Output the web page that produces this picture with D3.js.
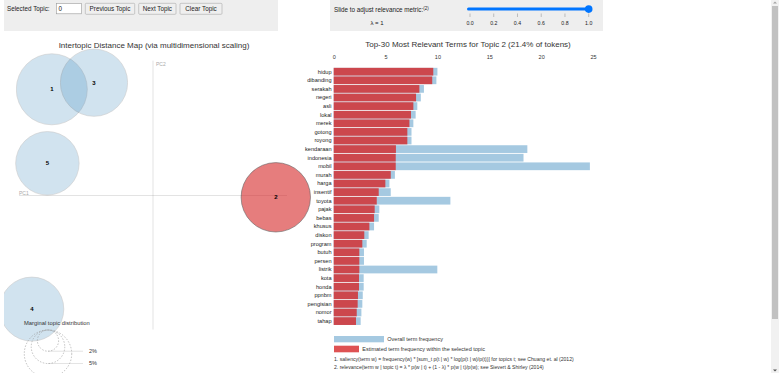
<!DOCTYPE html>
<html><head><meta charset="utf-8">
<script src="https://cdn.jsdelivr.net/npm/d3@7"></script>
<style>
html,body{margin:0;padding:0;background:#fff;overflow:hidden;}
text{font-family:"Liberation Sans",Arial,sans-serif;}
</style></head>
<body>
<svg id="chart" width="779" height="373"></svg>
<script>
// ---------- data ----------
const terms = ["hidup","dibanding","serakah","negeri","asli","lokal","merek","gotong","royong","kendaraan","indonesia","mobil","murah","harga","insentif","toyota","pajak","bebas","khusus","diskon","program","butuh","persen","listrik","kota","honda","ppnbm","pengisian","nomor","tahap"];
const topicFreq = [9.6,9.5,8.26,7.94,7.68,7.45,7.3,7.1,7.1,6.0,5.98,5.98,5.5,4.98,4.34,4.15,3.95,3.89,3.44,2.95,2.76,2.47,2.47,2.47,2.44,2.44,2.34,2.31,2.22,2.15];
const overallFreq = [10.0,9.9,8.7,8.4,8.06,7.9,7.68,7.5,7.5,18.67,18.3,24.7,5.9,5.37,5.5,11.25,4.4,4.34,3.89,3.37,3.18,2.92,2.92,9.99,2.89,2.89,2.8,2.76,2.67,2.6];
const xTicks = [0,5,10,15,20,25];

const topicIds = [1,2,3,4,5];
const topicPC1 = [-0.253,0.307,-0.1475,-0.303,-0.264];
const topicPC2 = [0.2655,-0.0045,0.282,-0.284,0.0805];
const topicPct = [22.4,21.4,20.1,18.2,17.9];
const selectedTopic = 2;

const legendPct = [2,5,10];
const lambdaTicks = [0,0.2,0.4,0.6,0.8,1.0];
const lambdaValue = 1;

// ---------- setup ----------
const svg = d3.select("#chart");
const dark = "#333";

// control panels
svg.append("rect").attr("x",4).attr("y",0).attr("width",274).attr("height",31).attr("fill","#eeeeee");
svg.append("rect").attr("x",330).attr("y",0).attr("width",273).attr("height",31).attr("fill","#eeeeee");

svg.append("text").attr("x",7).attr("y",11).attr("font-size",6.3).attr("fill","#222").text("Selected Topic:");
svg.append("rect").attr("x",56.5).attr("y",3.3).attr("width",25).attr("height",10.5).attr("fill","#fff").attr("stroke","#999").attr("stroke-width",0.6);
svg.append("text").attr("x",58.5).attr("y",11).attr("font-size",6.3).attr("fill","#222").text("0");
const buttons = [["Previous Topic",85.3,49.4],["Next Topic",138.7,37.3],["Clear Topic",180,42]];
buttons.forEach(b=>{
  svg.append("rect").attr("x",b[1]).attr("y",3.3).attr("width",b[2]).attr("height",11).attr("fill","#efefef").attr("stroke","#aaa").attr("stroke-width",0.6).attr("rx",1);
  svg.append("text").attr("x",b[1]+b[2]/2).attr("y",11).attr("text-anchor","middle").attr("font-size",6.3).attr("fill","#222").text(b[0]);
});

svg.append("text").attr("x",334).attr("y",12.3).attr("font-size",6.3).attr("fill","#222")
  .text("Slide to adjust relevance metric:").append("tspan").attr("font-size",4.5).attr("dy",-2).text("(2)");
svg.append("text").attr("x",377).attr("y",25.3).attr("text-anchor","middle").attr("font-size",6).attr("fill","#222").text("λ = " + lambdaValue);

const lam = d3.scaleLinear().domain([0,1]).range([470,588.7]);
svg.append("rect").attr("x",467).attr("y",7.6).attr("width",123).attr("height",3).attr("rx",1.5).attr("fill","#0075ff");
svg.append("circle").attr("cx",lam(lambdaValue)).attr("cy",9.1).attr("r",3.8).attr("fill","#0075ff");
const lg = svg.append("g");
lambdaTicks.forEach(t=>{
  lg.append("line").attr("x1",lam(t)).attr("x2",lam(t)).attr("y1",13.5).attr("y2",17).attr("stroke","#888").attr("stroke-width",0.5);
  lg.append("text").attr("x",lam(t)).attr("y",24.8).attr("text-anchor","middle").attr("font-size",5.2).attr("fill","#222").text(t.toFixed(1));
});

// ---------- left: MDS ----------
svg.append("text").attr("x",154).attr("y",47.5).attr("text-anchor","middle").attr("font-size",8).attr("fill",dark)
  .text("Intertopic Distance Map (via multidimensional scaling)");

const defs = svg.append("defs");
defs.append("clipPath").attr("id","leftclip").append("rect").attr("x",4).attr("y",0).attr("width",320).attr("height",373);
const left = svg.append("g").attr("clip-path","url(#leftclip)");

const xs = d3.scaleLinear().domain([-0.335,0.335]).range([19,287]);
const ys = d3.scaleLinear().domain([-0.335,0.335]).range([329.5,61.5]);
const rs = d3.scaleSqrt().domain([0,100]).range([0,75]);

left.append("line").attr("x1",xs(-0.335)).attr("x2",xs(0.335)).attr("y1",ys(0)).attr("y2",ys(0)).attr("stroke","gray").attr("opacity",0.3).attr("stroke-width",0.7);
left.append("line").attr("x1",xs(0)).attr("x2",xs(0)).attr("y1",ys(0.335)-0.8).attr("y2",ys(-0.335)).attr("stroke","gray").attr("opacity",0.3).attr("stroke-width",0.7);
left.append("text").attr("x",19).attr("y",194.5).attr("font-size",5).attr("fill","#aaa").text("PC1");
left.append("text").attr("x",156).attr("y",66).attr("font-size",5).attr("fill","#aaa").text("PC2");

const topics = topicIds.map((id,i)=>({id, x:topicPC1[i], y:topicPC2[i], p:topicPct[i]}));
left.selectAll("circle.topic").data(topics).enter().append("circle")
  .attr("class","topic")
  .attr("cx",d=>xs(d.x)).attr("cy",d=>ys(d.y)).attr("r",d=>rs(d.p))
  .attr("fill",d=>d.id===selectedTopic?"#d62728":"#1f77b4")
  .attr("opacity",d=>d.id===selectedTopic?0.6:0.2)
  .attr("stroke","black").attr("stroke-width",0.6);
left.selectAll("text.tl").data(topics).enter().append("text")
  .attr("class","tl").attr("x",d=>xs(d.x)).attr("y",d=>ys(d.y)+2)
  .attr("text-anchor","middle").attr("font-size",6).attr("font-weight","bold").attr("fill","#000").text(d=>d.id);

// marginal legend
const lcx = 48, ltop = 330, lcx2 = 83;
left.append("text").attr("x",24).attr("y",325.3).attr("font-size",5.8).attr("fill",dark).text("Marginal topic distribution");
legendPct.forEach(p=>{
  const r = rs(p);
  left.append("circle").attr("cx",lcx).attr("cy",ltop+r).attr("r",r).attr("fill","none")
    .attr("stroke","#999").attr("stroke-dasharray","1.5 1.5").attr("stroke-width",0.6);
  left.append("line").attr("x1",lcx).attr("x2",lcx2).attr("y1",ltop+2*r).attr("y2",ltop+2*r)
    .attr("stroke","gray").attr("opacity",0.3).attr("stroke-width",0.7);
  // label only when it falls inside the visible page (the 10% label is below the fold)
  if (ltop + 2*r + 2 < 373) {
    left.append("text").attr("x",lcx2+6).attr("y",ltop+2*r+1.8).attr("font-size",5.5).attr("fill",dark).text(p+"%");
  }
});

// ---------- right: bars ----------
svg.append("text").attr("x",468).attr("y",46.5).attr("text-anchor","middle").attr("font-size",8).attr("fill",dark)
  .text("Top-30 Most Relevant Terms for Topic " + selectedTopic + " (" + topicPct[selectedTopic-1].toFixed(1) + "% of tokens)");

const bx = d3.scaleLinear().domain([0,25]).range([333.7,593]);
const by = d3.scaleBand().domain(terms).range([67.4,325.4]).paddingInner(0.1).paddingOuter(0.05);

const axis = d3.axisTop(bx).tickValues(xTicks).tickSize(0).tickPadding(0);
const ag = svg.append("g").attr("transform","translate(0,59)").call(axis);
ag.select(".domain").remove();
ag.selectAll("text").attr("font-size",5.5).attr("fill",dark).attr("font-family","Liberation Sans, Arial, sans-serif");

const rows = terms.map((t,i)=>({t, a:overallFreq[i], b:topicFreq[i]}));
svg.selectAll("rect.ov").data(rows).enter().append("rect").attr("class","ov")
  .attr("x",bx(0)).attr("y",d=>by(d.t)).attr("width",d=>bx(d.a)-bx(0)).attr("height",by.bandwidth())
  .attr("fill","#1f77b4").attr("opacity",0.4);
svg.selectAll("rect.tf").data(rows).enter().append("rect").attr("class","tf")
  .attr("x",bx(0)).attr("y",d=>by(d.t)).attr("width",d=>bx(d.b)-bx(0)).attr("height",by.bandwidth())
  .attr("fill","#d62728").attr("opacity",0.8);
svg.selectAll("text.term").data(rows).enter().append("text").attr("class","term")
  .attr("x",331.5).attr("y",d=>by(d.t)+by.bandwidth()/2+1.9).attr("text-anchor","end")
  .attr("font-size",5.6).attr("fill","#222").text(d=>d.t);

// legend
svg.append("rect").attr("x",334).attr("y",336).attr("width",50).attr("height",6.3).attr("fill","#1f77b4").attr("opacity",0.4);
svg.append("text").attr("x",387.3).attr("y",341.3).attr("font-size",5.5).attr("fill",dark).text("Overall term frequency");
svg.append("rect").attr("x",334).attr("y",345.7).attr("width",25).attr("height",6.6).attr("fill","#d62728").attr("opacity",0.8);
svg.append("text").attr("x",362.3).attr("y",351).attr("font-size",5.5).attr("fill",dark).text("Estimated term frequency within the selected topic");
svg.append("text").attr("x",334).attr("y",361.2).attr("font-size",5.1).attr("fill",dark)
  .text("1. saliency(term w) = frequency(w) * [sum_t p(t | w) * log(p(t | w)/p(t))] for topics t; see Chuang et. al (2012)");
svg.append("text").attr("x",334).attr("y",369.4).attr("font-size",5.1).attr("fill",dark)
  .text("2. relevance(term w | topic t) = λ * p(w | t) + (1 - λ) * p(w | t)/p(w); see Sievert & Shirley (2014)");

// scrollbar
svg.append("rect").attr("x",771).attr("y",0).attr("width",8).attr("height",373).attr("fill","#f1f1f1");
svg.append("rect").attr("x",772).attr("y",6).attr("width",6).attr("height",313).attr("fill","#c1c1c1");
svg.append("path").attr("d","M773,3.5 L775,1.5 L777,3.5 Z").attr("fill","#a3a3a3");
svg.append("path").attr("d","M773,369.5 L775,371.5 L777,369.5 Z").attr("fill","#505050");
</script>
</body></html>
